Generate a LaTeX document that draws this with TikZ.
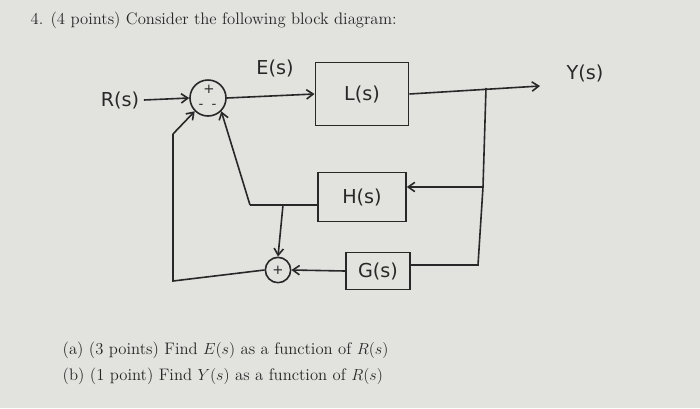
\documentclass[tikz,border=0pt]{standalone}
\usepackage{fontspec}
\newfontfamily\hand{DejaVu Sans}[Scale=1]
\usetikzlibrary{arrows.meta}
\definecolor{paper}{RGB}{226,226,223}
\definecolor{ink}{RGB}{40,40,40}
\begin{document}
\begin{tikzpicture}[x=0.75pt,y=-0.75pt,
  wire/.style={draw=ink,line width=1.2pt},
  arr/.style={wire,-{Straight Barb[length=5pt,width=7pt]}},
  blk/.style={draw=ink,line width=1.2pt,minimum width=#1,inner sep=0pt,font=\hand\Large,text=ink},
  sumj/.style={draw=ink,line width=1.2pt,circle,inner sep=0pt},
  sgn/.style={font=\hand\normalsize,text=ink},
  lbl/.style={font=\hand\Large,text=ink},
  prt/.style={font=\fontsize{12.5}{14}\selectfont,anchor=west,text=black!85}]
\fill[paper] (0,0) rectangle (700,408);
\useasboundingbox (0,0) rectangle (700,408);
\node[prt] (title) at (26,20) {4. (4 points) Consider the following block diagram:};
\node[prt] (qa) at (58,350) {(a) (3 points) Find $E(s)$ as a function of $R(s)$};
\node[prt] (qb) at (58,376) {(b) (1 point) Find $Y(s)$ as a function of $R(s)$};

\node[lbl] (R) at (120,100) {R(s)};
\node[sumj,minimum size=27pt] (s1) at (208,98) {};
\node[sgn] (p1) at (209,89) {+};
\node[sgn] (m1) at (201,106) {-};
\node[sgn] (m2) at (214,106) {-};
\node[lbl] (E) at (275,68) {E(s)};
\node[blk=70pt,minimum height=47pt] (L) at (362,94) {L(s)};
\node[lbl] (Y) at (585,73) {Y(s)};
\node[blk=66pt,minimum height=37pt] (H) at (362,197) {H(s)};
\node[blk=48pt,minimum height=28pt] (G) at (378,271) {G(s)};
\node[sumj,minimum size=19pt] (s2) at (278,270) {};
\node[sgn] (p2) at (278,270) {+};

\coordinate (b1) at (486,88);
\coordinate (b2) at (483,187);
\coordinate (b3) at (478,265);
\coordinate (Yend) at (540,86);
\coordinate (hj) at (250,205);
\coordinate (hb) at (283,205);
\coordinate (c1) at (173,281);
\coordinate (c2) at (173,134);

\draw[arr] (R.east) -- (s1.west);
\draw[arr] (s1.east) -- (L.west);
\draw[arr] (L.east) -- (Yend);
\draw[wire] (b1) -- (b2) -- (b3) -- (G.east |- b3);
\draw[arr] (b2) -- (H.east |- b2);
\draw[wire] (H.west |- hj) -- (hj);
\draw[arr] (hj) -- (s1.south east);
\draw[arr] (hb) -- (s2.north);
\draw[arr] (G.west) -- (s2.east);
\draw[wire] (s2.west) -- (c1) -- (c2);
\draw[arr] (c2) -- (s1.south west);
\end{tikzpicture}
\end{document}
